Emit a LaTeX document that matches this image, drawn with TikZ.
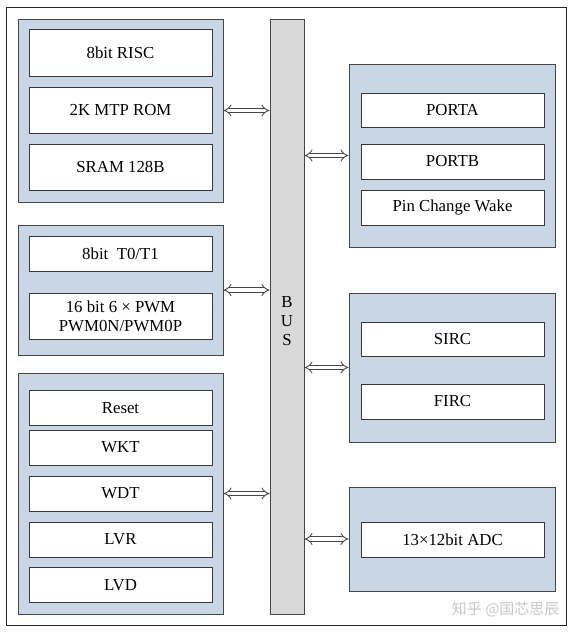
\documentclass[tikz,border=0pt]{standalone}
\usepackage{fontspec}
\setmainfont{Liberation Serif}
\newfontfamily\cjk{Noto Sans CJK SC}
\usetikzlibrary{arrows.meta}
\definecolor{grpfill}{RGB}{200,214,230}
\definecolor{busfill}{RGB}{217,217,217}
\definecolor{edge}{RGB}{70,70,70}
\tikzset{
  grp/.style={draw=edge, line width=0.9pt, fill=grpfill, inner sep=0pt},
  item/.style={draw=edge!80!black, line width=1pt, fill=white, inner sep=0pt,
    minimum width=183pt, font=\fontsize{16.8}{19}\selectfont, align=center},
  busbox/.style={draw=edge, line width=0.9pt, fill=busfill, inner sep=0pt},
  busarrow/.style={draw=edge, double=white, double distance=3.4pt, line width=0.85pt,
    {Implies[length=5pt,width=10pt]}-{Implies[length=5pt,width=10pt]}},
}
\begin{document}
\begin{tikzpicture}[x=1pt,y=-1pt]
\useasboundingbox (0,0) rectangle (575,634);
\node[draw=black!85, line width=0.9pt, minimum width=560pt, minimum height=618pt, inner sep=0pt] (frame) at (286,316) {};
% bus
\node[busbox, minimum width=34pt, minimum height=595pt] (bus) at (287,316.5) {};
\node[font=\fontsize{16.8}{20}\selectfont, align=center] (buslabel) at (287,321) {B\\[-1pt]U\\[-1pt]S};
% left groups
\node[grp, minimum width=205pt, minimum height=183pt] (g1) at (120.5,110.5) {};
\node[item, minimum height=46pt] (risc) at (120.5,53) {8bit RISC};
\node[item, minimum height=46pt] (rom) at (120.5,110) {2K MTP ROM};
\node[item, minimum height=46pt] (sram) at (120.5,167) {SRAM 128B};
\node[grp, minimum width=205pt, minimum height=130pt] (g2) at (120.5,290) {};
\node[item, minimum height=35pt] (timer) at (120.5,253.5) {8bit\ \ T0/T1};
\node[item, minimum height=46pt] (pwm) at (120.5,316) {16 bit 6 × PWM\\PWM0N/PWM0P};
\node[grp, minimum width=205pt, minimum height=241pt] (g3) at (120.5,493.5) {};
\node[item, minimum height=35pt] (reset) at (120.5,408) {Reset};
\node[item, minimum height=35pt] (wkt) at (120.5,447.5) {WKT};
\node[item, minimum height=35pt] (wdt) at (120.5,493.5) {WDT};
\node[item, minimum height=35pt] (lvr) at (120.5,539.5) {LVR};
\node[item, minimum height=35pt] (lvd) at (120.5,585) {LVD};
% right groups
\node[grp, minimum width=206pt, minimum height=183pt] (r1) at (452,155.5) {};
\node[item, minimum height=34pt] (porta) at (452.5,110) {PORTA};
\node[item, minimum height=35pt] (portb) at (452.5,161.5) {PORTB};
\node[item, minimum height=35pt] (pcw) at (452.5,207.5) {Pin Change Wake};
\node[grp, minimum width=206pt, minimum height=149pt] (r2) at (452,367.5) {};
\node[item, minimum height=34pt] (sirc) at (452.5,339) {SIRC};
\node[item, minimum height=35pt] (firc) at (452.5,401.5) {FIRC};
\node[grp, minimum width=206pt, minimum height=104pt] (r3) at (452,539) {};
\node[item, minimum height=35pt] (adc) at (452.5,539.5) {13×12bit ADC};
% arrows
\draw[busarrow] (g1.east) -- (g1.east -| bus.west);
\draw[busarrow] (g2.east) -- (g2.east -| bus.west);
\draw[busarrow] (g3.east) -- (g3.east -| bus.west);
\draw[busarrow] (r1.west -| bus.east) -- (r1.west);
\draw[busarrow] (r2.west -| bus.east) -- (r2.west);
\draw[busarrow] (r3.west -| bus.east) -- (r3.west);
% watermark
\node[font=\cjk\fontsize{15}{17}\selectfont, text=black!22, anchor=east] (wm) at (563,609) {知乎 @国芯思辰};
\end{tikzpicture}
\end{document}
